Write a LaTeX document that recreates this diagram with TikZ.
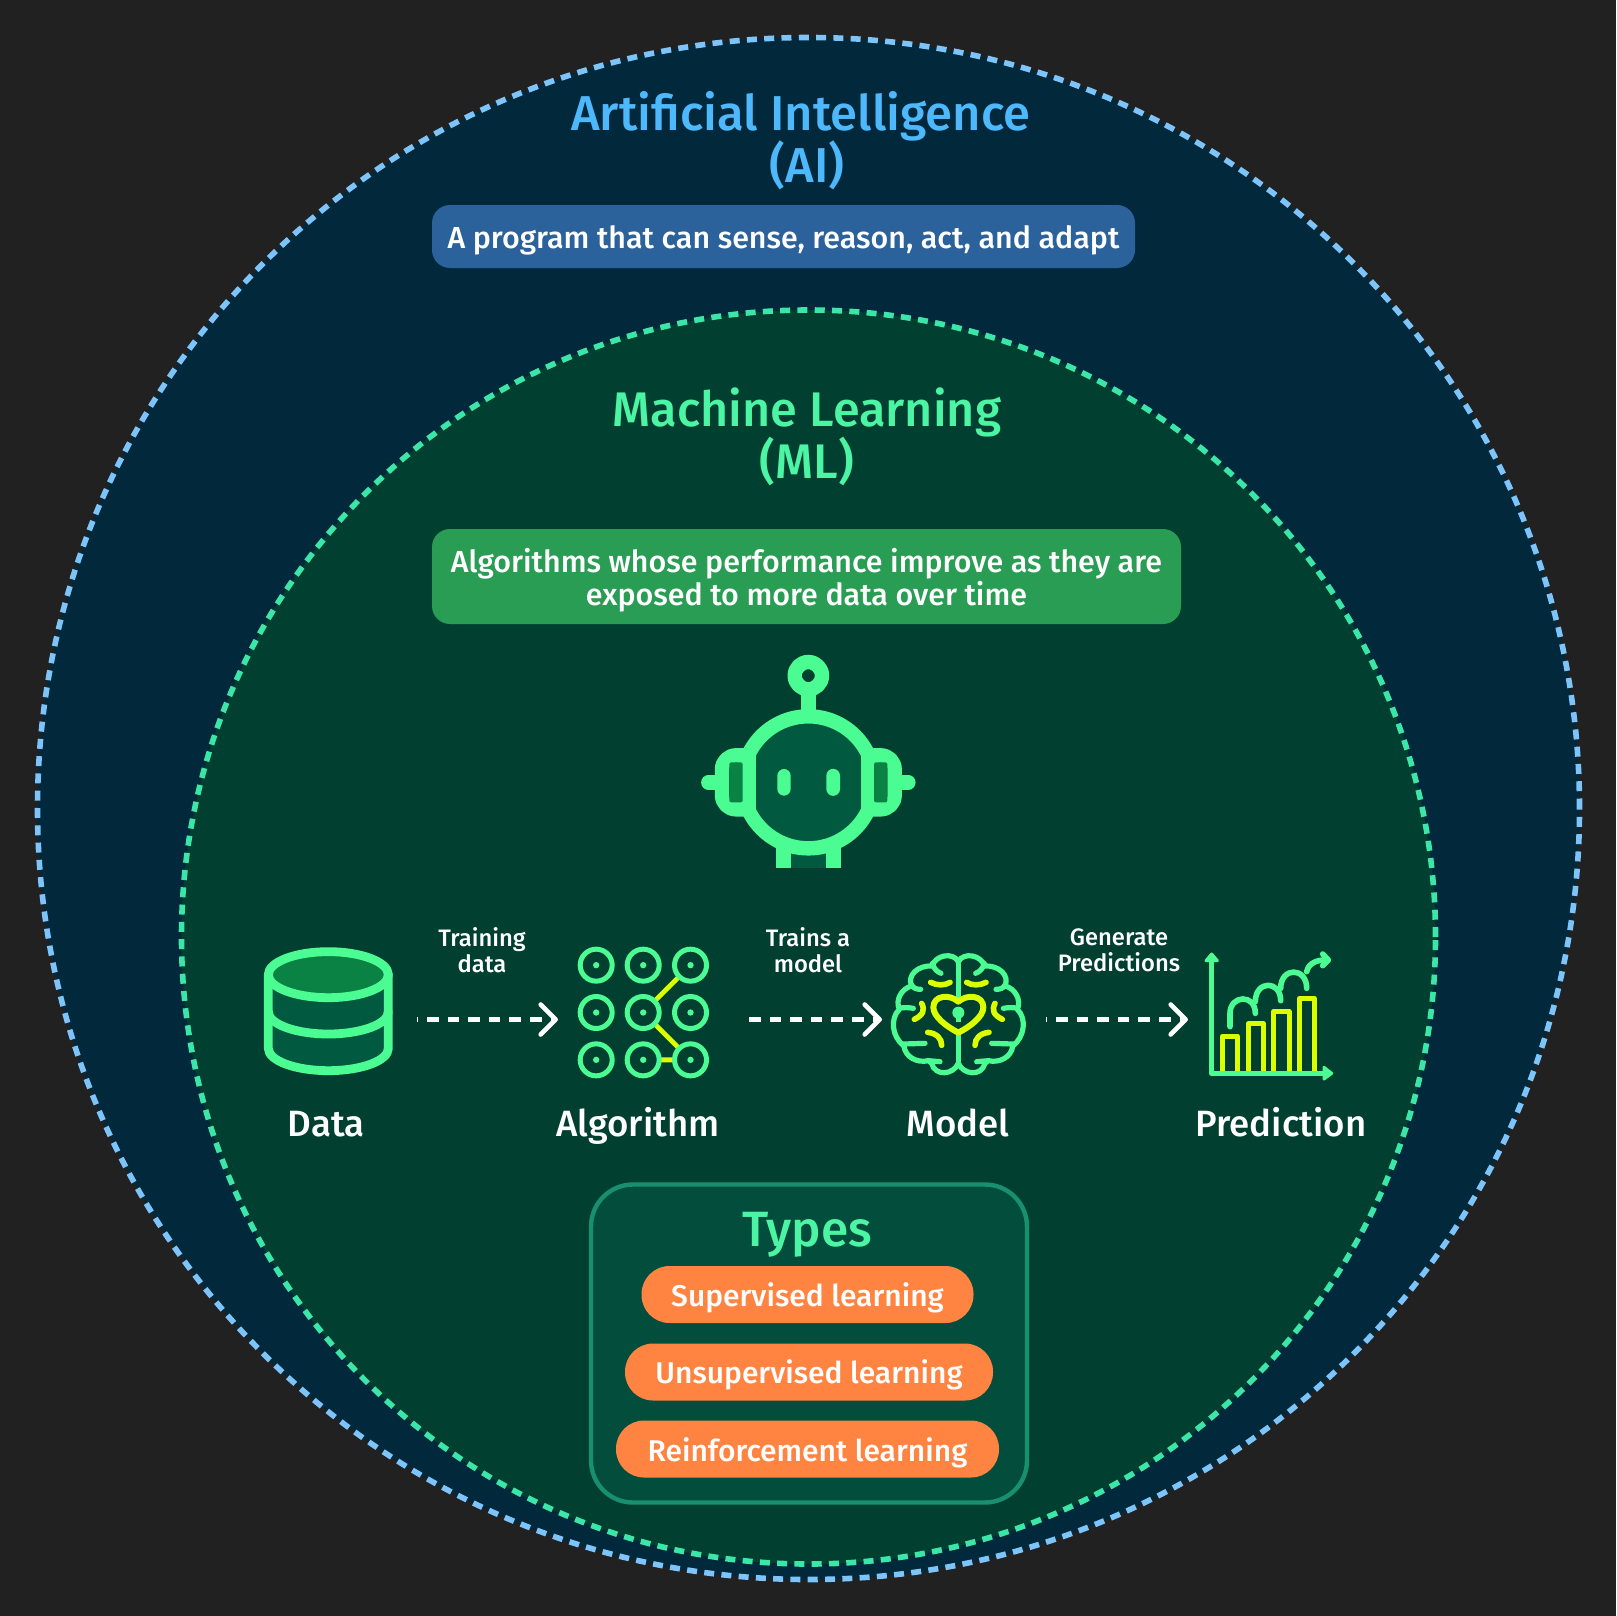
\documentclass[tikz,border=0pt]{standalone}
\usepackage{fontspec}
\setmainfont{Fira Sans}[UprightFont=* Medium,BoldFont=* SemiBold]
\usetikzlibrary{arrows.meta,calc}
\definecolor{bgc}{HTML}{212121}
\definecolor{aiback}{HTML}{01293B}
\definecolor{aidash}{HTML}{7CC4FA}
\definecolor{aititle}{HTML}{4DB8FC}
\definecolor{aibox}{HTML}{2B629B}
\definecolor{mlback}{HTML}{014030}
\definecolor{mldash}{HTML}{3CE6A8}
\definecolor{mltitle}{HTML}{4BF5A4}
\definecolor{mlbox}{HTML}{2A9D54}
\definecolor{ico}{HTML}{4BFC93}
\definecolor{icofill}{HTML}{015A3F}
\definecolor{icotop}{HTML}{0A8243}
\definecolor{yel}{HTML}{DCFF00}
\definecolor{typeback}{HTML}{024D3B}
\definecolor{typeline}{HTML}{189070}
\definecolor{pill}{HTML}{FF8442}
\tikzset{
 titlea/.style={font=\fontsize{24.5}{26}\selectfont,text=aititle,anchor=base,inner sep=0pt},
 titleb/.style={font=\fontsize{24.3}{26}\selectfont,text=mltitle,anchor=base,inner sep=0pt},
 boxtext/.style={font=\fontsize{15.2}{16.4}\selectfont,text=white,align=center,inner sep=0pt},
 caplabel/.style={font=\fontsize{18.3}{20}\selectfont,text=white,anchor=base,inner sep=0pt},
 smalllabel/.style={font=\fontsize{11.9}{12.9}\selectfont,text=white,align=center,inner sep=0pt},
 pilltext/.style={font=\fontsize{15}{16}\selectfont,text=white,anchor=base,inner sep=0pt},
 flow/.style={draw=white,line width=2.5pt,dash pattern=on 5.8pt off 4.5pt,-{Straight Barb[length=7.5pt,width=15pt,line width=2.3pt,round]}},
 flowstub/.style={flow,dash phase=5.3pt},
 icoline/.style={draw=ico,line cap=round,line join=round},
 zone/.style={circle,inner sep=0pt,line width=2.8pt,dash pattern=on 5pt off 3.65pt},
 pillbox/.style={fill=pill,rounded corners=14pt,minimum height=28.5pt,inner sep=0pt},
}
\begin{document}
\begin{tikzpicture}[x=0.5pt,y=-0.5pt,line cap=butt]
\useasboundingbox (0,0) rectangle (1616,1616);
\fill[bgc] (0,0) rectangle (1616,1616);
% circles
\node[zone,minimum size=771pt,fill=aiback,draw=aidash] (ai) at (808.5,808.5) {};
\node[zone,minimum size=627pt,fill=mlback,draw=mldash] (ml) at (808.5,937) {};
% titles
\node[titlea] (tai) at (801,131) {Artificial Intelligence};
\node[titlea] (tai2) at (807,182) {(AI)};
\node[fill=aibox,rounded corners=9pt,minimum width=351.5pt,minimum height=31.5pt,inner sep=0pt] (bai) at (783.5,236.5) {};
\node[boxtext,anchor=base] (tbai) at (783.5,248) {A program that can sense, reason, act, and adapt};
\node[titleb] (tml) at (807,426) {Machine Learning};
\node[titleb] (tml2) at (807,478) {(ML)};
\node[fill=mlbox,rounded corners=9pt,minimum width=374.5pt,minimum height=47.5pt,inner sep=0pt] (bml) at (806.5,576.5) {};
\node[boxtext] (tbml) at (806.5,580) {Algorithms whose performance improve as they are\\exposed to more data over time};
% robot
\begin{scope}[shift={(660,630)},x=0.16667pt,y=-0.16667pt]
\draw[icoline,line width=7.2pt] (445,137) circle (41);
\draw[ico,line width=7.2pt] (445,190) -- (445,240);
\fill[icofill] (392,630) rectangle (498,713);
\draw[ico,line width=7.2pt,line cap=butt] (370,640) -- (370,713);
\draw[ico,line width=7.2pt,line cap=butt] (520,640) -- (520,713);
\draw[icoline,line width=7.2pt,rounded corners=7pt] (268,376) -- (186,376) -- (186,538) -- (268,538);
\draw[icoline,line width=7.2pt,rounded corners=7pt] (622,376) -- (704,376) -- (704,538) -- (622,538);
\draw[icoline,line width=7.2pt] (145,457) -- (170,457);
\draw[icoline,line width=7.2pt] (720,457) -- (745,457);
\draw[ico,line width=7.2pt,fill=icofill] (445,457) circle (198);
\fill[icotop,rounded corners=1pt] (208,397) rectangle (248,517);
\fill[icotop,rounded corners=1pt] (642,397) rectangle (682,517);
\draw[ico,line width=6.7pt,line cap=butt] (268,360) -- (268,555);
\draw[ico,line width=6.7pt,line cap=butt] (622,360) -- (622,555);
\fill[ico] (352,437) arc[start angle=180,end angle=360,radius=20] -- (392,477) arc[start angle=0,end angle=180,radius=20] -- cycle;
\fill[ico] (499,437) arc[start angle=180,end angle=360,radius=20.5] -- (540,477) arc[start angle=0,end angle=180,radius=20.5] -- cycle;
\end{scope}
% data
\begin{scope}[shift={(240,900)},x=0.16667pt,y=-0.16667pt]
\draw[icoline,line width=4.4pt,fill=icofill] (85,224) -- (85,445) arc[start angle=180,end angle=0,x radius=180,y radius=67] -- (445,224) -- cycle;
\draw[icoline,line width=4.4pt] (85,335) arc[start angle=180,end angle=0,x radius=180,y radius=67];
\draw[icoline,line width=4.4pt,fill=icotop] (265,224) ellipse[x radius=180,y radius=69];
\end{scope}
% algorithm
\begin{scope}[shift={(240.5,900.5)},x=0.16667pt,y=-0.16667pt]
\draw[yel,line width=2.4pt] (1350,194) -- (1208,336) -- (1350,478) -- (1208,478);
\foreach \xx/\cx in {a/1067,b/1208,c/1350}{
 \foreach \yy/\cy in {a/194,b/336,c/478}{
  \draw[draw=ico,line width=2.5pt,fill=mlback] (\cx,\cy) circle (48);
  \fill[ico] (\cx,\cy) circle (9.5);
 }}
\end{scope}
% brain
\begin{scope}[shift={(860,920)},x=0.16667pt,y=-0.16667pt]
\foreach \sx in {1,-1}{
\begin{scope}[xshift=49.167pt,xscale=\sx,xshift=-49.167pt]
\draw[icoline,line width=2.6pt]
 (295,430) .. controls (280,465) and (225,470) .. (215,430) -- (205,422)
 .. controls (170,430) and (135,410) .. (132,378)
 .. controls (95,350) and (90,295) .. (118,268)
 .. controls (105,240) and (125,205) .. (155,198)
 .. controls (140,165) and (175,135) .. (217,138)
 .. controls (225,105) and (280,95) .. (295,125);
\draw[icoline,line width=2.6pt] (217,130) .. controls (222,148) and (232,155) .. (243,160);
\draw[icoline,line width=2.6pt] (155,195) .. controls (160,205) and (170,208) .. (182,208);
\draw[icoline,line width=2.6pt] (118,265) .. controls (130,262) and (145,262) .. (160,265);
\draw[icoline,line width=2.6pt] (130,372) -- (195,370);
\draw[icoline,line width=2.6pt] (205,422) -- (240,425);
\draw[yel,line cap=round,line width=2.8pt] (212,187) .. controls (230,197) and (255,197) .. (270,187);
\draw[yel,line cap=round,line width=2.8pt] (185,250) .. controls (195,270) and (190,285) .. (163,298);
\draw[yel,line cap=round,line width=2.8pt] (203,337) .. controls (230,340) and (245,355) .. (245,376);
\end{scope}}
\draw[ico,line width=2.6pt] (295,125) -- (295,430);
\draw[yel,line width=3pt,line join=round,fill=mlback] (295,338) .. controls (260,320) and (220,290) .. (220,262) .. controls (220,225) and (270,222) .. (295,245) .. controls (320,222) and (370,225) .. (370,262) .. controls (370,290) and (330,320) .. (295,338) -- cycle;
\fill[ico] (295,278) circle (18);
\fill[ico] (288,280) -- (302,280) -- (302,305) -- (288,305) -- cycle;
\end{scope}
% prediction
\begin{scope}[shift={(1180,930)},x=0.16667pt,y=-0.16667pt]
\foreach \l/\r/\t in {128/172/318,205/250/281,281/327/244,358/403/205}{
 \draw[yel,line width=2.5pt,line join=round] (\l,425) -- (\l,\t) -- (\r,\t) -- (\r,425);}
\draw[icoline,line width=2.8pt] (95,80) -- (95,430) -- (445,430);
\fill[ico,draw=ico,line width=1.5pt,line join=round] (78,92) -- (95,72) -- (112,92) -- cycle;
\fill[ico,draw=ico,line width=1.5pt,line join=round] (432,412) -- (455,430) -- (432,447) -- cycle;
\draw[icoline,line width=2.8pt] (150,290) -- (150,250) .. controls (150,195) and (226,190) .. (226,250);
\draw[icoline,line width=2.8pt] (226,215) .. controls (226,150) and (302,150) .. (302,212);
\draw[icoline,line width=2.8pt] (302,175) .. controls (302,110) and (380,110) .. (380,175);
\draw[icoline,line width=2.8pt] (380,125) .. controls (385,100) and (410,90) .. (435,90);
\draw[icoline,line width=2.8pt] (428,72) -- (445,90) -- (428,107);
\end{scope}
% flow
\coordinate (f1a) at (417,1019.5); \coordinate (f1b) at (558,1019.5);
\coordinate (f2a) at (749,1019.5); \coordinate (f2b) at (882,1019.5);
\coordinate (f3a) at (1046,1019.5); \coordinate (f3b) at (1188,1019.5);
\draw[flowstub] (f1a) -- (f1b);
\draw[flow] (f2a) -- (f2b);
\draw[flowstub] (f3a) -- (f3b);
\node[smalllabel] (l1) at (482,950) {Training\\data};
\node[smalllabel] (l2) at (808,950) {Trains a\\model};
\node[smalllabel] (l3) at (1119,950) {Generate\\Predictions};
\node[caplabel] (c1) at (326,1136) {Data};
\node[caplabel] (c2) at (638,1136) {Algorithm};
\node[caplabel] (c3) at (958,1136) {Model};
\node[caplabel] (c4) at (1281,1136) {Prediction};
% types
\node[draw=typeline,fill=typeback,line width=2.2pt,rounded corners=21pt,minimum width=218pt,minimum height=159pt,inner sep=0pt] (types) at (809,1343.5) {};
\node[font=\fontsize{24.8}{26}\selectfont,text=mltitle,anchor=base,inner sep=0pt] (ttypes) at (807,1246) {Types};
\node[pillbox,minimum width=166pt] (p1) at (807.5,1294.5) {};
\node[pilltext] (t1) at (807.5,1306) {Supervised learning};
\node[pillbox,minimum width=184pt] (p2) at (809,1372) {};
\node[pilltext] (t2) at (809,1383) {Unsupervised learning};
\node[pillbox,minimum width=191.5pt] (p3) at (807.5,1449) {};
\node[pilltext] (t3) at (807.5,1461) {Reinforcement learning};
\end{tikzpicture}
\end{document}
